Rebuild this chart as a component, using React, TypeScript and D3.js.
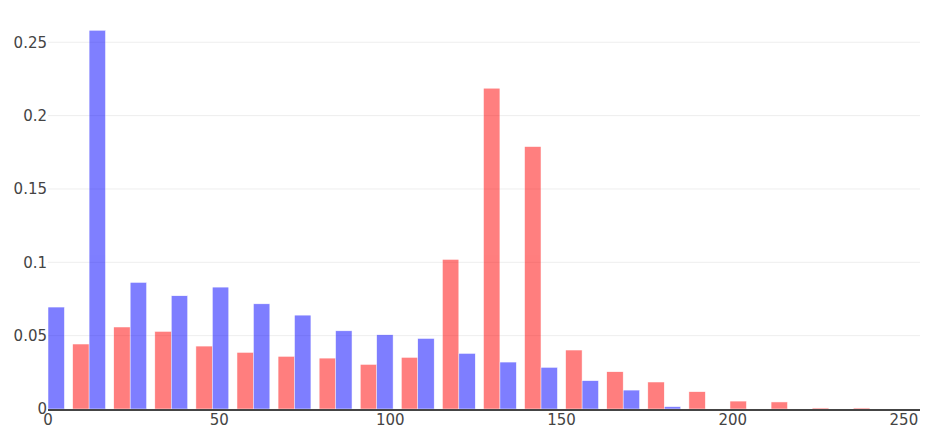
import React, { useEffect } from "react";
import * as d3 from "d3";

const binCenters = [0, 12, 24, 36, 48, 60, 72, 84, 96, 108, 120, 132, 144, 156, 168, 180, 192, 204, 216, 228, 240];
const redValues = [0, 0.0443, 0.0559, 0.0529, 0.0429, 0.0386, 0.0359, 0.0347, 0.0304, 0.0352, 0.102, 0.2187, 0.1789, 0.0402, 0.0254, 0.0184, 0.0118, 0.0054, 0.0048, 0.0007, 0.0007];
const blueValues = [0.0695, 0.2582, 0.0863, 0.0772, 0.0831, 0.0717, 0.064, 0.0533, 0.0506, 0.0481, 0.0379, 0.032, 0.0284, 0.0193, 0.0129, 0.0016, 0, 0, 0, 0, 0];
const xTicks = [0, 50, 100, 150, 200, 250];
const yTicks = [0, 0.05, 0.1, 0.15, 0.2, 0.25];
const yTickLabels = ["0", "0.05", "0.1", "0.15", "0.2", "0.25"];

const W = 941;
const H = 442;
const left = 48;
const right = 920;
const top = 10.3;
const bottom = 409;
const binSize = 12;
const barGap = 0.2;

export default function App() {
  useEffect(() => {
    document.body.style.margin = "0";
  }, []);

  const x = d3.scaleLinear().domain([0, 254.7]).range([left, right]);
  const y = d3.scaleLinear().domain([0, 0.2718]).range([bottom, top]);
  const groupW = binSize * (1 - barGap);
  const barW = groupW / 2;

  const series = [
    { values: redValues, color: "rgb(255,0,0)", offset: -groupW / 2 },
    { values: blueValues, color: "rgb(0,0,255)", offset: 0 },
  ];

  const font = "'DejaVu Sans', Verdana, sans-serif";

  return (
    <svg width={W} height={H} style={{ display: "block", background: "#fff" }}>
      <defs>
        <clipPath id="plotclip">
          <rect x={left} y={top} width={right - left} height={bottom - top} />
        </clipPath>
      </defs>
      {yTicks.slice(1).map((t) => (
        <line key={t} x1={left} x2={right} y1={y(t)} y2={y(t)} stroke="#eee" strokeWidth={1} />
      ))}
      <g clipPath="url(#plotclip)">
        {series.map((s, si) => (
          <g key={si} opacity={0.5}>
            {binCenters.map((c, i) => {
              const v = s.values[i];
              if (!v) return null;
              const x0 = x(c + s.offset);
              const x1 = x(c + s.offset + barW);
              return (
                <rect
                  key={i}
                  x={x0}
                  y={y(v)}
                  width={x1 - x0}
                  height={y(0) - y(v)}
                  fill={s.color}
                  stroke="#fff"
                  strokeWidth={0.5}
                />
              );
            })}
          </g>
        ))}
      </g>
      <line x1={left} x2={right} y1={bottom + 1} y2={bottom + 1} stroke="#444" strokeWidth={2} />
      {yTicks.map((t, i) => (
        <text
          key={t}
          x={left - 1}
          y={y(t)}
          dy="0.36em"
          textAnchor="end"
          fontFamily={font}
          fontSize={15}
          fill="#444"
        >
          {yTickLabels[i]}
        </text>
      ))}
      {xTicks.map((t) => (
        <text
          key={t}
          x={x(t)}
          y={420}
          dy="0.36em"
          textAnchor="middle"
          fontFamily={font}
          fontSize={15}
          fill="#444"
        >
          {t}
        </text>
      ))}
    </svg>
  );
}
